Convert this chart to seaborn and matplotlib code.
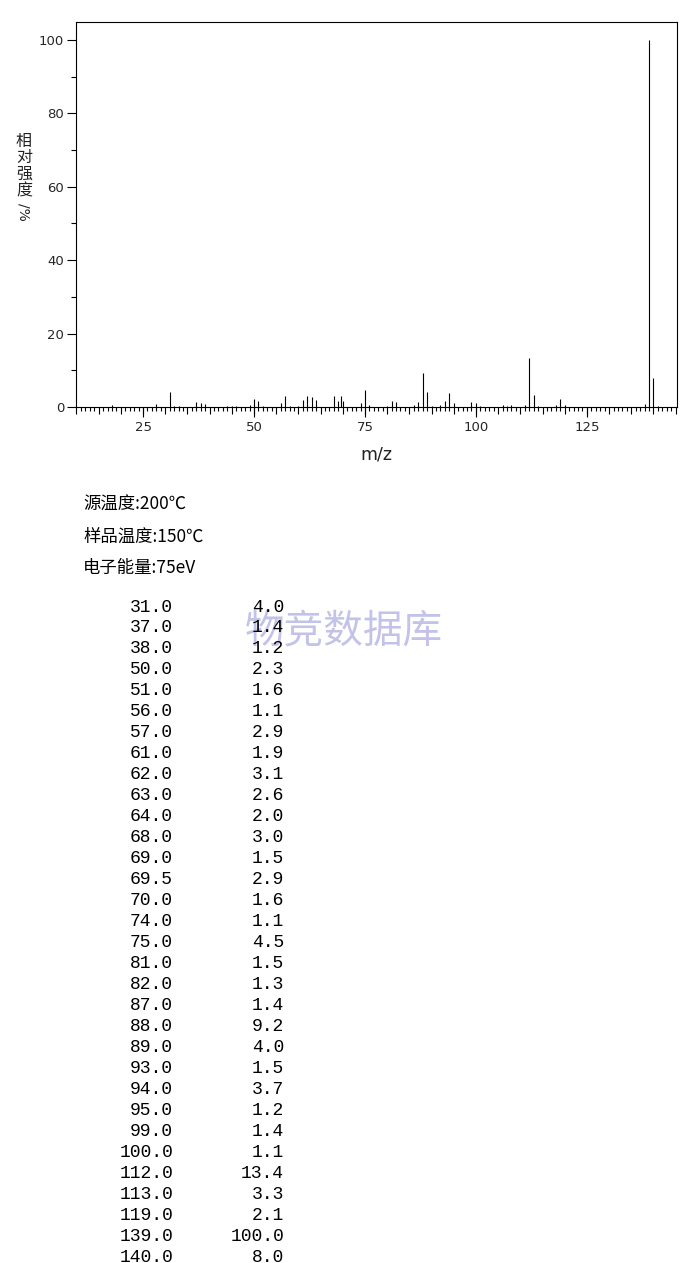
import matplotlib
matplotlib.use("Agg")
import matplotlib.pyplot as plt
import seaborn as sns
import numpy as np
from matplotlib.ticker import MultipleLocator, NullFormatter, FixedLocator

# ---- data ----
table_mz = [31.0, 37.0, 38.0, 50.0, 51.0, 56.0, 57.0, 61.0, 62.0, 63.0, 64.0,
            68.0, 69.0, 69.5, 70.0, 74.0, 75.0, 81.0, 82.0, 87.0, 88.0, 89.0,
            93.0, 94.0, 95.0, 99.0, 100.0, 112.0, 113.0, 119.0, 139.0, 140.0]
table_int = [4.0, 1.4, 1.2, 2.3, 1.6, 1.1, 2.9, 1.9, 3.1, 2.6, 2.0,
             3.0, 1.5, 2.9, 1.6, 1.1, 4.5, 1.5, 1.3, 1.4, 9.2, 4.0,
             1.5, 3.7, 1.2, 1.4, 1.1, 13.4, 3.3, 2.1, 100.0, 8.0]
# small peaks (< 1 %) visible only in the spectrum
minor_mz = [18, 28, 32, 33, 39, 44, 45, 46, 49, 52, 58, 60, 76, 80, 86, 90,
            92, 101, 106, 107, 108, 111, 114, 118, 120, 138, 141]
minor_int = [0.6, 0.9, 0.3, 0.3, 0.8, 0.2, 0.3, 0.3, 0.5, 0.3, 0.4, 0.3, 0.5, 0.3, 0.5, 0.3,
             0.6, 0.3, 0.6, 0.3, 0.6, 0.5, 0.3, 0.5, 0.5, 0.7, 0.3]
header_lines = ["源温度:200℃", "样品温度:150℃", "电子能量:75eV"]
x_label_ticks = [25, 50, 75, 100, 125]
y_ticks = [0, 20, 40, 60, 80, 100]

W, H = 687, 1263
sns.set_style("white")
plt.rcParams['font.family'] = ['DejaVu Sans']
cjk = ['Noto Sans CJK SC', 'DejaVu Sans']

fig = plt.figure(figsize=(W / 100, H / 100), dpi=100)

def fx(x):
    return x / W

def fy(y):
    return 1 - y / H

left, right, top, bottom = 76, 677, 22, 407
ax = fig.add_axes([fx(left), fy(bottom), fx(right) - fx(left), fy(top) - fy(bottom)])

all_mz = np.array(table_mz + minor_mz)
all_int = np.array(table_int + minor_int)
ax.vlines(all_mz, 0, all_int, colors='black', linewidth=0.8)

ax.set_xlim(9.9, 145.3)
ax.set_ylim(0, 104.9)
for s in ax.spines.values():
    s.set_color('black')
    s.set_linewidth(0.8)
    s.set_visible(True)

# x ticks: minor every 1, medium every 5; long labelled ticks every 25 on twin
ax.xaxis.set_major_locator(MultipleLocator(5))
ax.xaxis.set_minor_locator(MultipleLocator(1))
ax.xaxis.set_major_formatter(NullFormatter())
ax.tick_params(axis='x', which='major', direction='out', length=5.0, width=0.8,
               color='black', bottom=True, top=False)
ax.tick_params(axis='x', which='minor', direction='out', length=3.0, width=0.8,
               color='black', bottom=True, top=False)

ax2 = ax.twiny()
ax2.set_xlim(ax.get_xlim())
ax2.xaxis.set_ticks_position('bottom')
ax2.xaxis.set_label_position('bottom')
ax2.set_xticks(x_label_ticks)
ax2.set_xticklabels([str(t) for t in x_label_ticks])
ax2.tick_params(axis='x', direction='out', length=7.2, width=0.8, color='black',
                labelsize=9.5, pad=3)
for s in ax2.spines.values():
    s.set_visible(False)
ax2.set_yticks([])

ax.set_yticks(y_ticks)
ax.set_yticklabels([str(t) for t in y_ticks])
ax.yaxis.set_minor_locator(FixedLocator([10, 30, 50, 70, 90]))
ax.tick_params(axis='y', which='major', direction='out', length=6.5, width=0.8,
               color='black', labelsize=9.5, left=True, pad=2)
ax.tick_params(axis='y', which='minor', direction='out', length=3.6, width=0.8,
               color='black', left=True)

# x label
fig.text(fx(376.5), fy(455), "m/z", ha='center', va='center', fontsize=12.5,
         color='#222222')

# y label stacked vertically
for i, ch in enumerate("相对强度"):
    fig.text(fx(24), fy(141 + i * 16.7), ch, ha='center', va='center',
             fontsize=11.5, family=cjk, color='#222222')
fig.text(fx(24), fy(212), "/%", ha='center', va='center', fontsize=10,
         rotation=270, color='#222222')

# header lines
for i, line in enumerate(header_lines):
    fig.text(fx(83), fy(505 + i * 31.5), line, ha='left', va='center',
             fontsize=12.5, family=cjk, color='black')

# watermark
fig.text(fx(343.5), fy(631), "物竞数据库", ha='center', va='center', fontsize=28.5,
         family=cjk, color='#c3c3ea', zorder=0)

# table
for i, (m, v) in enumerate(zip(table_mz, table_int)):
    yy = 607 + i * 20.97
    fig.text(fx(173), fy(yy), f"{m:.1f}", ha='right', va='center', fontsize=13,
             family='Liberation Mono', color='black', zorder=2)
    fig.text(fx(284), fy(yy), f"{v:.1f}", ha='right', va='center', fontsize=13,
             family='Liberation Mono', color='black', zorder=2)

fig.savefig("out.png", dpi=100)
